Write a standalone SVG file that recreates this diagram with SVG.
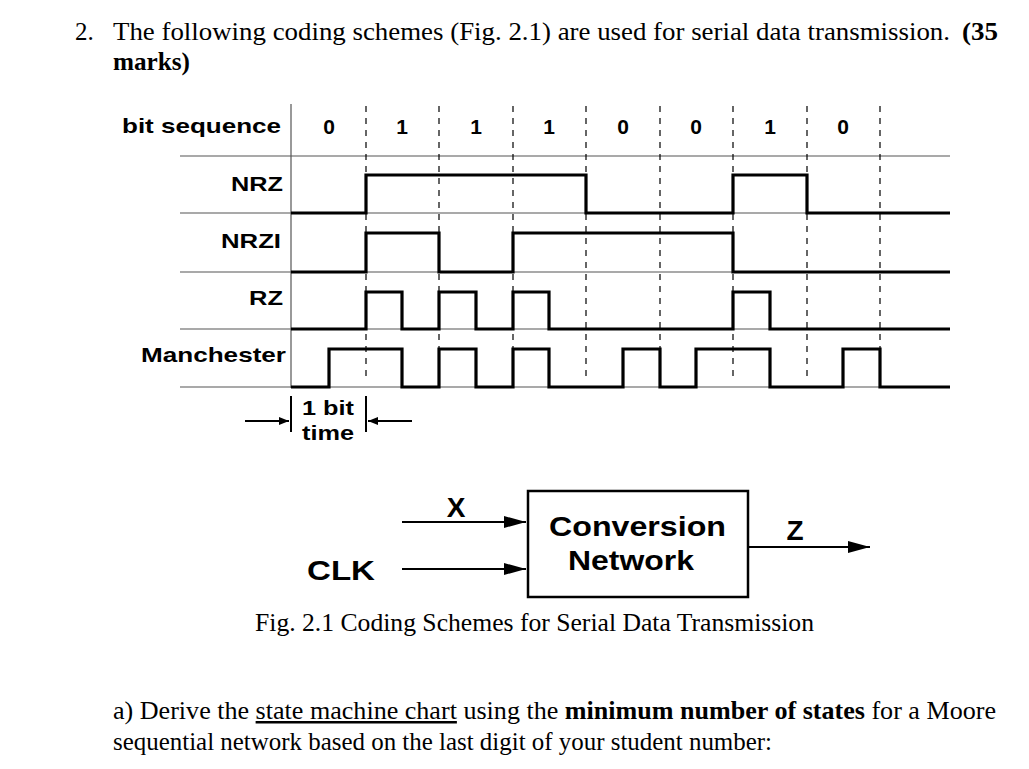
<svg xmlns="http://www.w3.org/2000/svg" width="1029" height="769" viewBox="0 0 1029 769">
<defs>
<style>
.t{font-family:"Liberation Serif",serif;font-size:25px;fill:#000}
.a{font-family:"Liberation Sans",Arial,sans-serif;font-weight:bold;fill:#000}
.thin{stroke:#555;stroke-width:1.2;fill:none}
.dash{stroke:#000;stroke-width:1.2;stroke-dasharray:6,6;fill:none}
.w{stroke:#000;stroke-width:3.2;fill:none;stroke-linejoin:miter}
.ln{stroke:#000;stroke-width:2;fill:none}
</style>
<marker id="ar" markerWidth="10" markerHeight="8" refX="10" refY="4" orient="auto" markerUnits="userSpaceOnUse" viewBox="0 0 10 8"><path d="M0,0 L10,4 L0,8 z" fill="#000"/></marker>
<marker id="ar2" markerWidth="22" markerHeight="12" refX="22" refY="6" orient="auto" markerUnits="userSpaceOnUse" viewBox="0 0 22 12"><path d="M0,0 L22,6 L0,12 z" fill="#000"/></marker>
</defs>
<rect width="1029" height="769" fill="#fff"/>
<text class="t" x="75" y="40">2.</text>
<text class="t" x="113" y="40" textLength="837" lengthAdjust="spacingAndGlyphs">The following coding schemes (Fig. 2.1) are used for serial data transmission.</text>
<text class="t" x="962" y="40" font-weight="bold" textLength="36" lengthAdjust="spacingAndGlyphs">(35</text>
<text class="t" x="113" y="70" font-weight="bold" textLength="77" lengthAdjust="spacingAndGlyphs">marks)</text>

<g id="grid">
<line class="thin" x1="180" y1="156" x2="950" y2="156"/>
<line class="thin" x1="180" y1="213" x2="950" y2="213"/>
<line class="thin" x1="180" y1="272" x2="950" y2="272"/>
<line class="thin" x1="180" y1="329" x2="950" y2="329"/>
<line class="thin" x1="180" y1="387" x2="950" y2="387"/>
<line class="thin" x1="291" y1="104" x2="291" y2="388"/>
<path class="dash" d="M366,106V382M439,106V382M513,106V382M586,106V382M660,106V382M733,106V382M807,106V382M880,106V382"/>
</g>
<g id="labels" class="a" font-size="21">
<text x="281" y="133" text-anchor="end" textLength="159" lengthAdjust="spacingAndGlyphs">bit sequence</text>
<g text-anchor="middle">
<text x="329" y="134">0</text><text x="402" y="134">1</text><text x="476" y="134">1</text><text x="549" y="134">1</text>
<text x="623" y="134">0</text><text x="696" y="134">0</text><text x="770" y="134">1</text><text x="843" y="134">0</text>
</g>
<text x="283" y="191" text-anchor="end" textLength="52" lengthAdjust="spacingAndGlyphs">NRZ</text>
<text x="281" y="248" text-anchor="end" textLength="60" lengthAdjust="spacingAndGlyphs">NRZI</text>
<text x="283" y="305" text-anchor="end" textLength="34" lengthAdjust="spacingAndGlyphs">RZ</text>
<text x="286" y="362" text-anchor="end" textLength="145" lengthAdjust="spacingAndGlyphs">Manchester</text>
</g>
<g id="waves">
<path id="nrz" class="w" d="M291,213H366V175H586V213H733V175H807V213H950"/>
<path id="nrzi" class="w" d="M291,272H366V233H439V272H513V233H733V272H950"/>
<path id="rz" class="w" d="M291,329H366V292H402V329H439V292H476V329H513V292H549V329H733V292H770V329H950"/>
<path id="manchester" class="w" d="M291,387H329V349H402V387H439V349H476V387H513V349H549V387H623V349H660V387H696V349H770V387H843V349H880V387H950"/>
</g>
<g id="bittime">
<line class="ln" x1="291" y1="396" x2="291" y2="432"/>
<line class="ln" x1="366" y1="396" x2="366" y2="432"/>
<line class="ln" x1="245" y1="421" x2="289" y2="421" stroke-width="1.5" marker-end="url(#ar)"/>
<line class="ln" x1="412" y1="421" x2="368" y2="421" stroke-width="1.5" marker-end="url(#ar)"/>
<text class="a" font-size="21" x="302" y="415" textLength="52" lengthAdjust="spacingAndGlyphs">1 bit</text>
<text class="a" font-size="21" x="302" y="440" textLength="52" lengthAdjust="spacingAndGlyphs">time</text>
</g>
<g id="connectors">
<line class="ln" x1="402" y1="522" x2="526" y2="522" marker-end="url(#ar2)"/>
<line class="ln" x1="402" y1="569" x2="526" y2="569" marker-end="url(#ar2)"/>
<line class="ln" x1="749" y1="547" x2="870" y2="547" marker-end="url(#ar2)"/>
</g>
<g id="network">
<rect x="528" y="491" width="220" height="106" fill="none" stroke="#000" stroke-width="2.5"/>
<text class="a" font-size="28" x="549" y="536" textLength="177" lengthAdjust="spacingAndGlyphs">Conversion</text>
<text class="a" font-size="28" x="568" y="570" textLength="126" lengthAdjust="spacingAndGlyphs">Network</text>
</g>
<text class="a" font-size="28" x="456" y="517" text-anchor="middle">X</text>
<text class="a" font-size="28" x="795" y="540" text-anchor="middle">Z</text>
<text class="a" font-size="28" x="307" y="580" textLength="68" lengthAdjust="spacingAndGlyphs">CLK</text>
<text class="t" x="255" y="631" textLength="559" lengthAdjust="spacingAndGlyphs">Fig. 2.1 Coding Schemes for Serial Data Transmission</text>
<text class="t" x="113" y="719" textLength="883" lengthAdjust="spacingAndGlyphs">a) Derive the <tspan text-decoration="underline">state machine chart</tspan> using the <tspan font-weight="bold">minimum number of states</tspan> for a Moore</text>
<text class="t" x="113" y="750" textLength="659" lengthAdjust="spacingAndGlyphs">sequential network based on the last digit of your student number:</text>
</svg>
